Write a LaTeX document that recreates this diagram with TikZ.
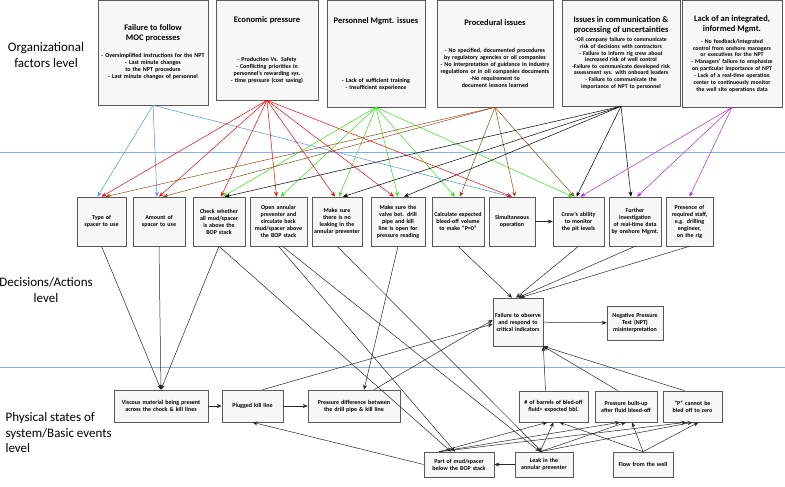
\documentclass[tikz,border=0pt]{standalone}
\usepackage{fontspec}
\setmainfont{Carlito}
\usetikzlibrary{arrows.meta}
\definecolor{brn}{RGB}{150,75,30}
\definecolor{blu}{RGB}{80,140,240}
\definecolor{pur}{RGB}{170,40,240}
\definecolor{grn}{RGB}{40,230,20}
\newcommand{\nohyph}{\hyphenpenalty=10000\relax\exhyphenpenalty=10000\relax}
\newcommand{\bx}[6]{\node[box,minimum width={#4-#2},minimum height={#5-#3},text width={#4-#2-3}] (#1) at ({(#2+#4)/2},{(#3+#5)/2}) {#6};}
\begin{document}
\begin{tikzpicture}[x=1pt,y=-1pt,
 box/.style={draw=black!65,fill=black!3,align=center,inner sep=1pt,font=\fontsize{6}{7}\selectfont\bfseries\nohyph,line width=0.6pt},
 ar/.style={-{Stealth[length=5pt,width=4pt]},line width=0.5pt},
 lvl/.style={font=\fontsize{13}{15.5}\selectfont,align=center}]
\useasboundingbox (0,0) rectangle (785,487);
\draw[blu!70,line width=0.8pt] (0,152) -- (785,152) (0,367) -- (785,367);
\node[lvl] (L1) at (46,55) {Organizational\\factors level};
\node[lvl] (L2) at (46,290) {Decisions/Actions\\level};
\node[lvl,align=left,anchor=west] (L3) at (2,433) {Physical states of\\system/Basic events\\level};
% top boxes
\bx{T1}{98}{0}{208}{105}{\fontsize{8.5}{10}\selectfont Failure to follow MOC processes\\[10pt]\fontsize{6}{7}\selectfont - Oversimplified instructions for the NPT\\ - Last minute changes to the NPT procedure\\ - Last minute changes of personnel}
\bx{T2}{216}{0}{318}{100}{\fontsize{8.5}{10}\selectfont Economic pressure\\[32pt]\fontsize{6}{7}\selectfont - Production Vs. Safety\\ - Conflicting priorities in personnel's rewarding sys.\\ - time pressure (cost saving)}
\bx{T3}{327}{0}{425}{107}{\fontsize{8.5}{10}\selectfont Personnel Mgmt. issues\\[52pt]\fontsize{6}{7}\selectfont - Lack of sufficient training\\ - Insufficient experience}
\bx{T4}{437}{0}{553}{107}{\fontsize{8.5}{10}\selectfont Procedural issues\\[20pt]\fontsize{6}{7}\selectfont - No specified, documented procedures by regulatory agencies or oil companies\\ - No interpretation of guidance in industry regulations or in oil companies documents\\ -No requirement to document lessons learned}
\bx{T5}{562}{0}{680}{106}{\fontsize{8.5}{10}\selectfont Issues in communication \& processing of uncertainties\\[3pt]\fontsize{5.8}{6.6}\selectfont -Oil company failure to communicate risk of decisions with contractors\\ - Failure to inform rig crew about increased risk of well control\\ -Failure to communicate developed risk assessment sys. with onboard leaders\\ - Failure to communicate the importance of NPT to personnel}
\bx{T6}{682}{0}{782}{107}{\fontsize{8.5}{10}\selectfont Lack of an integrated, informed Mgmt.\\[6pt]\fontsize{5.8}{6.6}\selectfont - No feedback/integrated control from onshore managers or executives for the NPT\\ - Managers' failure to emphasize on particular importance of NPT\\ - Lack of a real-time operation center to continuously monitor the well site operations data}
% decisions
\bx{D1}{77}{197}{126}{246}{Type of spacer to use}
\bx{D2}{133}{197}{185}{246}{Amount of spacer to use}
\bx{D3}{193}{197}{245}{246}{Check whether all mud/spacer is above the BOP stack}
\bx{D4}{250}{197}{307}{246}{Open annular preventer and circulate back mud/spacer above the BOP stack}
\bx{D5}{312}{197}{362}{246}{Make sure there is no leaking in the annular preventer}
\bx{D6}{371}{197}{425}{246}{Make sure the valve bet. drill pipe and kill line is open for pressure reading}
\bx{D7}{432}{197}{484}{246}{Calculate expected bleed-off volume to make ``P=0''}
\bx{D8}{489}{197}{535}{246}{Simultaneous operation}
\bx{D9}{553}{197}{604}{246}{Crew's ability to monitor the pit levels}
\bx{D10}{609}{197}{661}{246}{Further investigation of real-time data by onshore Mgmt.}
\bx{D11}{666}{197}{713}{246}{Presence of required staff, e.g. drilling engineer, on the rig}
\bx{F}{493}{298}{543}{346}{Failure to observe and respond to critical indicators}
\bx{N}{607}{306}{663}{340}{Negative Pressure Test (NPT) misinterpretation}
% physical
\bx{P1}{114}{390}{208}{422}{Viscous material being present across the chock \& kill lines}
\bx{P2}{222}{390}{283}{422}{Plugged kill line}
\bx{P3}{308}{390}{400}{422}{Pressure difference between the drill pipe \& kill line}
\bx{P4}{519}{391}{588}{422}{\# of barrels of bled-off fluid> expected bbl.}
\bx{P5}{595}{391}{657}{422}{Pressure built-up after fluid bleed-off}
\bx{P6}{663}{391}{722}{422}{``P'' cannot be bled off to zero}
\bx{P7}{424}{452}{494}{477}{Part of mud/spacer below the BOP stack}
\bx{P8}{515}{452}{573}{477}{Leak in the annular preventer}
\bx{P9}{613}{452}{673}{477}{Flow from the well}
% org -> decisions
\foreach \d/\o in {D1/-4,D2/-2,D8/-1} \draw[ar,blu] (T1.south) -- ([xshift=\o pt]\d.north);
\foreach \d/\o in {D1/0,D2/0,D3/2,D4/-2,D5/-2,D6/-4,D8/0} \draw[ar,red] (T2.south) -- ([xshift=\o pt]\d.north);
\foreach \d/\o in {D3/4,D4/2,D5/2,D6/0,D7/-3,D9/-6} \draw[ar,grn] (T3.south) -- ([xshift=\o pt]\d.north);
\foreach \d/\o in {D1/4,D2/4,D7/2,D8/3,D9/-4} \draw[ar,brn] (T4.south) -- ([xshift=\o pt]\d.north);
\foreach \d/\o in {D3/6,D5/6,D6/6,D9/-2,D10/-4} \draw[ar,black] (T5.south) -- ([xshift=\o pt]\d.north);
\foreach \d/\o in {D9/2,D10/2,D11/0} \draw[ar,pur] (T6.south) -- ([xshift=\o pt]\d.north);
% decisions
\draw[ar,black!85] (D8) -- (D9);
\foreach \d in {D1,D2,D3} \draw[ar,black!85] (\d.south) -- (P1.north);
\draw[ar,black!85] (D3.south) -- ([xshift=-8pt]P7.north);
\draw[ar,black!85] (D4.south) -- ([xshift=-4pt]P7.north);
\draw[ar,black!85] ([xshift=4pt]D4.south) -- ([xshift=-4pt]P8.north);
\draw[ar,black!85] (D5.south) -- ([xshift=-2pt]P8.north);
\draw[ar,black!85] (D6.south) -- ([xshift=10pt]P3.north);
\foreach \d/\o in {D7/-6,D9/-2,D10/0,D11/2} \draw[ar,black!85] (\d.south) -- ([xshift=\o pt]F.north);
\draw[ar,black!85] (F) -- (N);
\draw[ar,black!85] ([xshift=10pt]P2.north) -- ([yshift=-2pt]F.west);
\draw[ar,black!85] ([xshift=20pt]P3.north) -- ([yshift=2pt]F.west);
\foreach \p in {P4,P5,P6} \draw[ar,black!85] ([xshift=-8pt]\p.north) -- (F.south east);
\draw[ar,black!85] (P1) -- (P2);
\draw[ar,black!85] (P2) -- (P3);
\draw[ar,black!85] (P7.west) -- (P2.south);
\draw[ar,black!85] (P8) -- (P7);
\foreach \p in {P4,P5,P6} {
 \draw[ar,black!85] ([xshift=-20pt]P7.north) -- ([xshift=-6pt]\p.south);
 \draw[ar,black!85] ([xshift=-4pt]P8.north) -- (\p.south);
 \draw[ar,black!85] (P9.north) -- ([xshift=6pt]\p.south);}
\end{tikzpicture}
\end{document}
